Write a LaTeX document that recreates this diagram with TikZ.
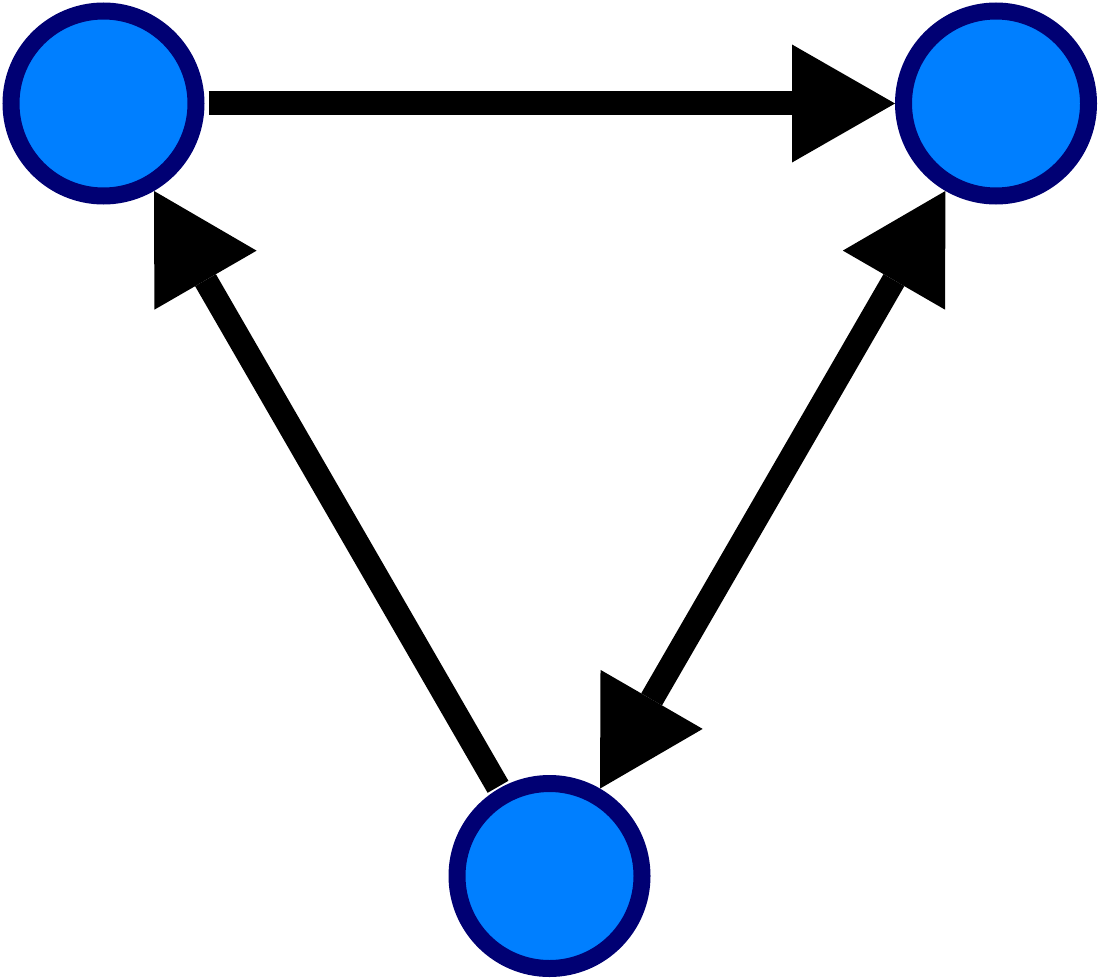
\documentclass[tikz,border=0pt]{standalone}
\usetikzlibrary{arrows.meta}
\definecolor{nodefill}{RGB}{0,127,255}
\definecolor{nodeedge}{RGB}{0,0,115}
\begin{document}
\begin{tikzpicture}[x=1pt,y=-1pt,
  vertex/.style={circle,draw=nodeedge,fill=nodefill,line width=17pt,minimum size=185pt,inner sep=0pt},
  edge/.style={line width=24pt,draw=black},
  bigtip/.tip={Triangle[length=103pt,width=118pt,line width=0pt]}]
\useasboundingbox (0,0) rectangle (1099,979);
\node[vertex] (a) at (103.5,103.5) {};
\node[vertex] (b) at (996,103.5) {};
\node[vertex] (c) at (549.5,876) {};
\draw[edge,-bigtip,shorten <=4pt] (a) -- (b);
\draw[edge,-bigtip,shorten <=2pt] (c) -- (a);
\draw[edge,bigtip-bigtip] (c) -- (b);
\end{tikzpicture}
\end{document}
